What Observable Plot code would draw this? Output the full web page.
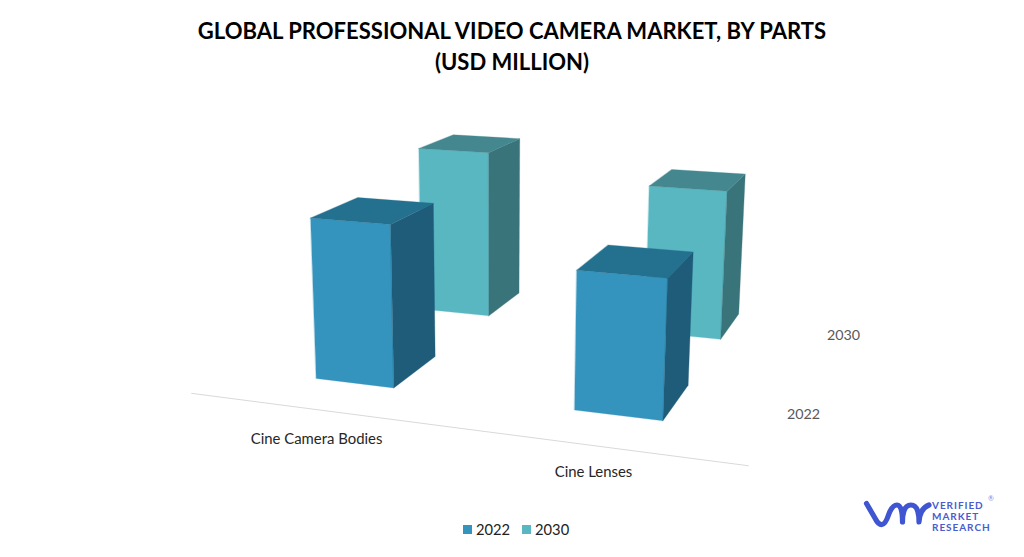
<!DOCTYPE html>
<html><head><meta charset="utf-8">
<style>
html,body{margin:0;padding:0;background:#fff}
#page{position:relative;width:1024px;height:557px;overflow:hidden;font-family:Lato,sans-serif}
h1{margin:0;height:85px;padding-top:15px;box-sizing:border-box;text-align:center;font:700 23.7px/31px Lato,sans-serif;color:#000;transform:scaleX(.93)}
#chart svg{display:block}
#legend{position:absolute;left:463px;top:519px;display:flex;align-items:center;font:14.7px/20px Lato,sans-serif;color:#222}
#legend i{display:inline-block;width:9px;height:9px;margin-right:4px}
#legend span{margin-right:12px}
#logo{position:absolute;left:860px;top:490px}
</style>
<script src="https://cdn.jsdelivr.net/npm/d3@7"></script>
<script src="https://cdn.jsdelivr.net/npm/@observablehq/plot@0.6"></script>
</head><body>
<div id="page">
<h1>GLOBAL PROFESSIONAL VIDEO CAMERA MARKET, BY PARTS<br>(USD MILLION)</h1>
<div id="chart"></div>
<div id="legend"></div>
<svg id="logo" width="164" height="50" viewBox="860 490 164 50">
 <path d="M866.5 503.5 L875.5 519 Q878.5 525 882 524.5 Q885.5 524 888.5 515 Q892 505 897 505 Q902.5 505 902.5 522 Q902.5 505 911 505 Q919 505 919 522 Q919.5 509 929 505" fill="none" stroke="#3f55d2" stroke-width="5.2" stroke-linecap="round" stroke-linejoin="round"/>
 <g font-family="Lato,sans-serif" font-weight="700" font-size="10" fill="#4a5cd0" letter-spacing="0.95">
  <text x="932" y="509">VERIFIED</text><text x="932" y="520">MARKET</text><text x="932" y="530.5">RESEARCH</text>
 </g>
 <text x="988" y="501" font-family="Lato,sans-serif" font-size="7" fill="#7a88dc">®</text>
</svg>
</div>
<script>
// ---- data (estimated, relative bar heights)
const categories = ["Cine Camera Bodies", "Cine Lenses"];
const series = ["2022", "2030"];
const values2022 = [100, 82.5];
const values2030 = [115.9, 100.3];

// ---- scene: a perspective camera fitted to the picture
const camera = [
  [69.943, -14.958, 70.286, 315.7],
  [1.902, -166.985, -6.307, 377.943],
  [-0.0195466, -0.0302288, 0.0685176, 1]
];
const catStep = 3.183, seriesStep = 2.532, valuePerUnit = 100;
const floorEdge = {x: [-1.096, 5.283], z: -0.765};
const catLabelAt = [{x: 0.909, z: -1.416}, {x: 3.88, z: -1.317}];
const seriesLabelAt = [{x: 5.588, z: 0.571}, {x: 5.652, z: 3.1}];
const faceColors = {
  "2022 front": "#3594bd", "2022 top": "#24708f", "2022 side": "#1f5c7a",
  "2030 front": "#59b7c2", "2030 top": "#45878f", "2030 side": "#3a747b"
};
const legendColors = {"2022": "#3594bd", "2030": "#59b7c2"};

const project = (X, Y, Z) => {
  const w = camera[2][0]*X + camera[2][1]*Y + camera[2][2]*Z + camera[2][3];
  return {
    x: (camera[0][0]*X + camera[0][1]*Y + camera[0][2]*Z + camera[0][3]) / w,
    y: (camera[1][0]*X + camera[1][1]*Y + camera[1][2]*Z + camera[1][3]) / w
  };
};

// back row first so that the nearer bars overlap it
const bars = [
  ...categories.map((c, i) => ({c, i, s: 1, v: values2030[i]})),
  ...categories.map((c, i) => ({c, i, s: 0, v: values2022[i]}))
];
const points = bars.flatMap(b => {
  const x0 = b.i * catStep, x1 = x0 + 1, z0 = b.s * seriesStep, z1 = z0 + 1, hgt = b.v / valuePerUnit;
  const faces = {
    front: [[x0,0,z0],[x1,0,z0],[x1,hgt,z0],[x0,hgt,z0]],
    side:  [[x1,0,z0],[x1,0,z1],[x1,hgt,z1],[x1,hgt,z0]],
    top:   [[x0,hgt,z0],[x1,hgt,z0],[x1,hgt,z1],[x0,hgt,z1]]
  };
  return Object.entries(faces).flatMap(([f, pts]) => pts.map(p => ({
    ...project(...p), id: `${b.c} ${series[b.s]} ${f}`, face: `${series[b.s]} ${f}`
  })));
});
const axisLine = floorEdge.x.map(x => project(x, 0, floorEdge.z));
const catLabels = categories.map((c, i) => ({...project(catLabelAt[i].x, 0, catLabelAt[i].z), t: c}));
const seriesLabels = series.map((s, i) => ({...project(seriesLabelAt[i].x, 0, seriesLabelAt[i].z), t: s}));

const chartTop = 85, chartH = 430;
document.getElementById("chart").append(Plot.plot({
  width: 1024, height: chartH, margin: 0,
  style: {background: "transparent", fontFamily: "Lato, sans-serif"},
  x: {domain: [0, 1024], range: [0, 1024], axis: null},
  y: {domain: [chartTop, chartTop + chartH], range: [0, chartH], axis: null},
  color: {domain: Object.keys(faceColors), range: Object.values(faceColors)},
  marks: [
    Plot.line(axisLine, {x: "x", y: "y", stroke: "#d9d9d9", strokeWidth: 1}),
    Plot.line(points, {x: "x", y: "y", z: "id", fill: "face", stroke: "face", strokeWidth: 0.3, curve: "linear-closed"}),
    Plot.text(catLabels, {x: "x", y: "y", text: "t", fontSize: 14.9, fill: "#262626"}),
    Plot.text(seriesLabels, {x: "x", y: "y", text: "t", fontSize: 14.3, fill: "#595959"})
  ]
}));
const lg = document.getElementById("legend");
for (const s of series) {
  const i = document.createElement("i"); i.style.background = legendColors[s];
  const t = document.createElement("span"); t.textContent = s;
  lg.append(i, t);
}
</script>
</body></html>
